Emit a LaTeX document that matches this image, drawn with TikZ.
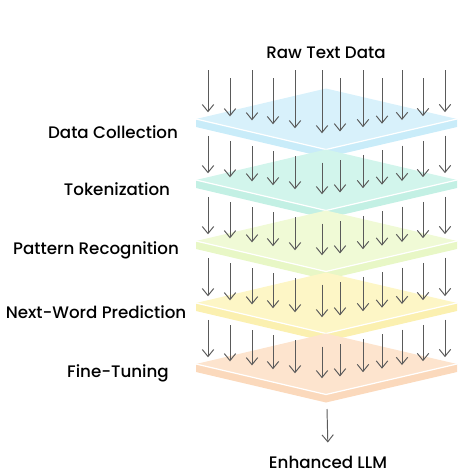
\documentclass[tikz,border=0pt]{standalone}
\usepackage{fontspec}
\setmainfont{Poppins}[UprightFont=* Medium]
\usetikzlibrary{arrows.meta}

\definecolor{bluetop}{HTML}{D8F1FB}
\definecolor{blueside}{HTML}{C9ECF9}
\definecolor{greentop}{HTML}{D2F5EC}
\definecolor{greenside}{HTML}{C3F0E4}
\definecolor{limetop}{HTML}{F0FAD6}
\definecolor{limeside}{HTML}{E8F7C6}
\definecolor{yellowtop}{HTML}{FDF6C6}
\definecolor{yellowside}{HTML}{FBF0B0}
\definecolor{orangetop}{HTML}{FDE4CE}
\definecolor{orangeside}{HTML}{FBD9BC}
\definecolor{arrowgray}{HTML}{5A5A5A}

\begin{document}
\begin{tikzpicture}[x=0.02cm,y=-0.02cm,
  flow/.style={draw=arrowgray,line width=0.55pt,-{Straight Barb[length=4pt,width=6.5pt]}},
  stage/.style={font=\fontsize{9.5}{11}\selectfont,text=black}]
\useasboundingbox (0,0) rectangle (474,474);

% layers
\foreach \yc/\top/\side in {119/bluetop/blueside,180/greentop/greenside,241/limetop/limeside,303/yellowtop/yellowside,364/orangetop/orangeside} {
  \fill[\side] (196,\yc) -- (326,\yc+30.5) -- (457,\yc) -- (457,\yc+8) -- (326,\yc+38.5) -- (196,\yc+8) -- cycle;
  \fill[\top] (196,\yc) -- (326,\yc-30.5) -- (457,\yc) -- (326,\yc+30.5) -- cycle;
  \draw[white,line width=0.7pt] (196,\yc) -- (326,\yc+30.5) -- (457,\yc);
}

% labels
\node[stage] (raw) at (326,53) {Raw Text Data};
\node[stage] (collect) at (113,132) {Data Collection};
\node[stage] (token) at (117,189) {Tokenization};
\node[stage] (pattern) at (96,250) {Pattern Recognition};
\node[stage] (next) at (96,312) {Next-Word Prediction};
\node[stage] (tune) at (118,373) {Fine-Tuning};
\node[stage] (llm) at (328,462) {Enhanced LLM};

% arrows onto each layer
\foreach \yc/\yp [count=\k] in {119/0,180/119,241/180,303/241,364/303} {
  \foreach \x/\ys [count=\i] in {208/70,230/78,252/70,273/78,295/70,322/70,340/78,363/70,382/78,402/70,423/78,445/70} {
    \pgfmathsetmacro\f{1-abs(\x-326)/130.5}
    \pgfmathsetmacro\yt{\yc-9+24*\f}
    \pgfmathsetmacro\yb{ifthenelse(\k==1,\ys,\yp+30.5*\f+14)}
    \coordinate (s\k-\i) at (\x,\yb);
    \coordinate (t\k-\i) at (\x,\yt);
    \draw[flow] (s\k-\i) -- (t\k-\i);
  }
}

% out of the stack
\coordinate (out) at (327,409);
\draw[flow,shorten >=4pt] (out) -- (llm.north);

\end{tikzpicture}
\end{document}
